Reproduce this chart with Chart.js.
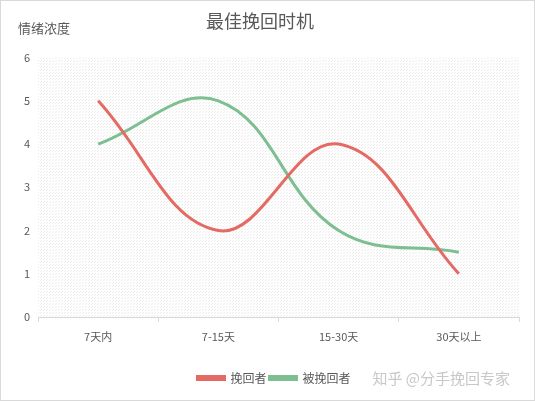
<!DOCTYPE html>
<html>
<head>
<meta charset="utf-8">
<script src="https://cdn.jsdelivr.net/npm/chart.js@4.4.1/dist/chart.umd.min.js"></script>
<style>
  html, body { margin: 0; padding: 0; background: #fff; }
  #wrap { width: 533px; height: 399px; border: 1px solid #d9d9d9; }
</style>
</head>
<body>
<div id="wrap"><canvas id="chart" width="533" height="399"></canvas></div>
<script>
// --- data ---
const categories = ['7天内', '7-15天', '15-30天', '30天以上'];
const winners = [5, 2, 4, 1];        // 挽回者
const wonBack = [4, 5, 2, 1.5];      // 被挽回者
const yTicks = [0, 1, 2, 3, 4, 5, 6];

const font = "'Noto Sans CJK SC', 'Noto Sans', sans-serif";

// dotted background inside the plot area
const dotsPlugin = {
    id: 'dots',
    beforeDatasetsDraw(chart) {
        const { ctx, chartArea: a } = chart;
        const tile = document.createElement('canvas');
        tile.width = 3; tile.height = 3;
        const t = tile.getContext('2d');
        t.fillStyle = '#ececec';
        t.fillRect(0, 0, 1, 1);
        t.fillRect(1, 2, 1, 1);
        ctx.save();
        ctx.fillStyle = ctx.createPattern(tile, 'repeat');
        ctx.fillRect(a.left, a.top, a.right - a.left, a.bottom - a.top);
        ctx.restore();
    }
};

// axis caption + watermark, and nudge the legend a little to the right
const textPlugin = {
    id: 'extraText',
    afterLayout(chart) {
        chart.legend.left += 14;
        chart.legend.right += 14;
    },
    afterDraw(chart) {
        const { ctx } = chart;
        ctx.save();
        ctx.fillStyle = '#595959';
        ctx.font = '13px ' + font;
        ctx.textBaseline = 'middle';
        ctx.fillText('情绪浓度', 17, 27);
        ctx.fillStyle = '#c8c8c8';
        ctx.font = '15px ' + font;
        ctx.textAlign = 'right';
        ctx.fillText('知乎 @分手挽回专家', 509, 377);
        ctx.restore();
    }
};

new Chart(document.getElementById('chart'), {
    type: 'line',
    data: {
        labels: categories,
        datasets: [{
            label: '挽回者',
            data: winners,
            borderColor: '#e46a64',
            backgroundColor: '#e46a64',
            borderWidth: 3,
            pointRadius: 0,
            tension: 0.4
        }, {
            label: '被挽回者',
            data: wonBack,
            borderColor: '#7dbf90',
            backgroundColor: '#7dbf90',
            borderWidth: 3,
            pointRadius: 0,
            tension: 0.4
        }]
    },
    options: {
        responsive: false,
        animation: false,
        layout: { padding: { left: 0, right: 15, top: 0, bottom: 6 } },
        plugins: {
            title: {
                display: true,
                text: '最佳挽回时机',
                color: '#595959',
                font: { family: font, size: 18, weight: 'normal' },
                padding: { top: 9, bottom: 26 }
            },
            legend: {
                position: 'bottom',
                labels: {
                    color: '#595959',
                    font: { family: font, size: 12 },
                    boxWidth: 27,
                    boxHeight: 3,
                    padding: 3
                }
            },
            tooltip: { enabled: false }
        },
        scales: {
            y: {
                min: 0,
                max: 6,
                afterFit: s => { s.width = 37; },
                afterBuildTicks: s => { s.ticks = yTicks.map(v => ({ value: v })); },
                grid: { display: false, drawTicks: false },
                border: { display: false },
                ticks: { color: '#595959', font: { family: font, size: 11 }, padding: 8 }
            },
            x: {
                offset: true,
                grid: { display: true, offset: true, drawOnChartArea: false, tickLength: 5, color: '#d9d9d9' },
                border: { color: '#d9d9d9' },
                ticks: { color: '#595959', font: { family: font, size: 11 }, padding: 8 },
                afterFit: s => { s.height = 52; }
            }
        }
    },
    plugins: [dotsPlugin, textPlugin]
});
</script>
</body>
</html>
